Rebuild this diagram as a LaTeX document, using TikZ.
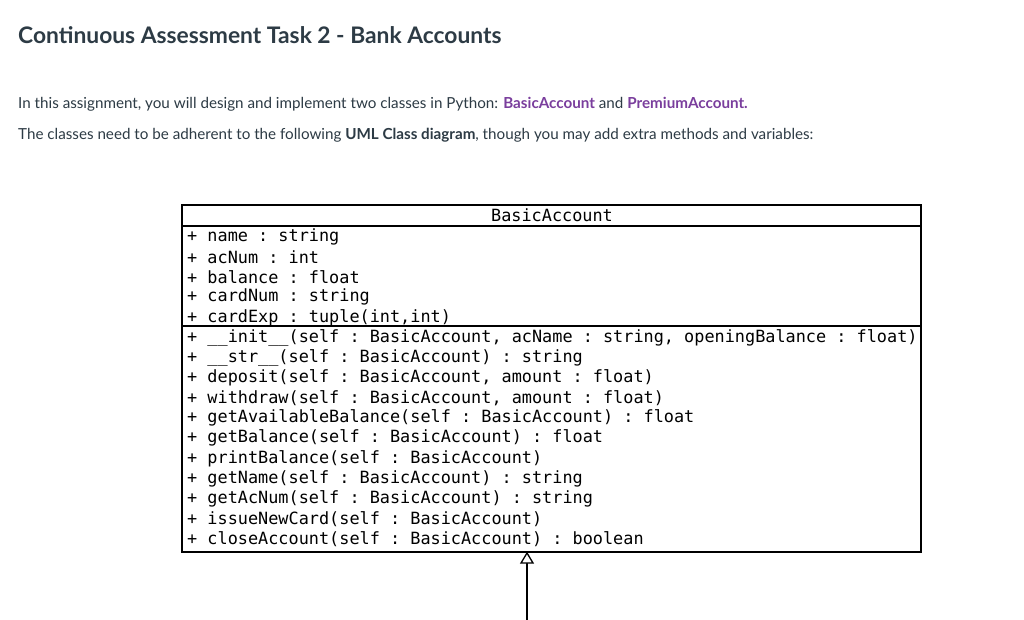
\documentclass[tikz,border=0pt]{standalone}
\usepackage{fontspec}
\setmainfont{Lato}
\newfontfamily\umlmono{DejaVu Sans Mono}
\definecolor{purp}{HTML}{7A3E9D}
\definecolor{txt}{HTML}{2D3B45}
\begin{document}
\begin{tikzpicture}[x=1pt,y=-1pt,
  mono/.style={font=\umlmono\frenchspacing\fontsize{16.85}{18}\selectfont,inner sep=0pt,anchor=west},
  para/.style={font=\fontsize{15.2}{16}\selectfont,text=txt,inner sep=0pt,anchor=west}]
\useasboundingbox[fill=white] (0,0) rectangle (1024,620);
\node[font=\fontsize{22.8}{26}\selectfont\bfseries,text=txt,inner sep=0pt,anchor=west] (title) at (18,35) {Continuous Assessment Task 2 - Bank Accounts};
\node[para] (p1) at (18,104) {In this assignment, you will design and implement two classes in Python: \textcolor{purp}{\bfseries BasicAccount} and \textcolor{purp}{\bfseries PremiumAccount.}};
\node[para] (p2) at (18,135) {The classes need to be adherent to the following \textbf{UML Class diagram}, though you may add extra methods and variables:};
\draw[line width=2.2pt] (182,205) rectangle (921,552);
\draw[line width=2.2pt] (182,226) -- (921,226);
\draw[line width=1.6pt] (182,326) -- (921,326);
\node[mono,anchor=center] (hdr) at (552,215) {BasicAccount};
\foreach \t [count=\i from 0] in {
 {+ name : string},{+ acNum : int},{+ balance : float},{+ cardNum : string},{+ cardExp : tuple(int,int)},
 {+ \_\_init\_\_(self : BasicAccount, acName : string, openingBalance : float)},
 {+ \_\_str\_\_(self : BasicAccount) : string},
 {+ deposit(self : BasicAccount, amount : float)},
 {+ withdraw(self : BasicAccount, amount : float)},
 {+ getAvailableBalance(self : BasicAccount) : float},
 {+ getBalance(self : BasicAccount) : float},
 {+ printBalance(self : BasicAccount)},
 {+ getName(self : BasicAccount) : string},
 {+ getAcNum(self : BasicAccount) : string},
 {+ issueNewCard(self : BasicAccount)},
 {+ closeAccount(self : BasicAccount) : boolean}}
 \node[mono] (l\i) at (187,237+20.13*\i) {\t};
\coordinate (ah) at (527,553);
\coordinate (at) at (527,620);
\draw[line width=2pt] (at) -- (527,563);
\draw[line width=1.3pt,fill=white] (ah) -- (521,563) -- (533,563) -- cycle;
\end{tikzpicture}
\end{document}
